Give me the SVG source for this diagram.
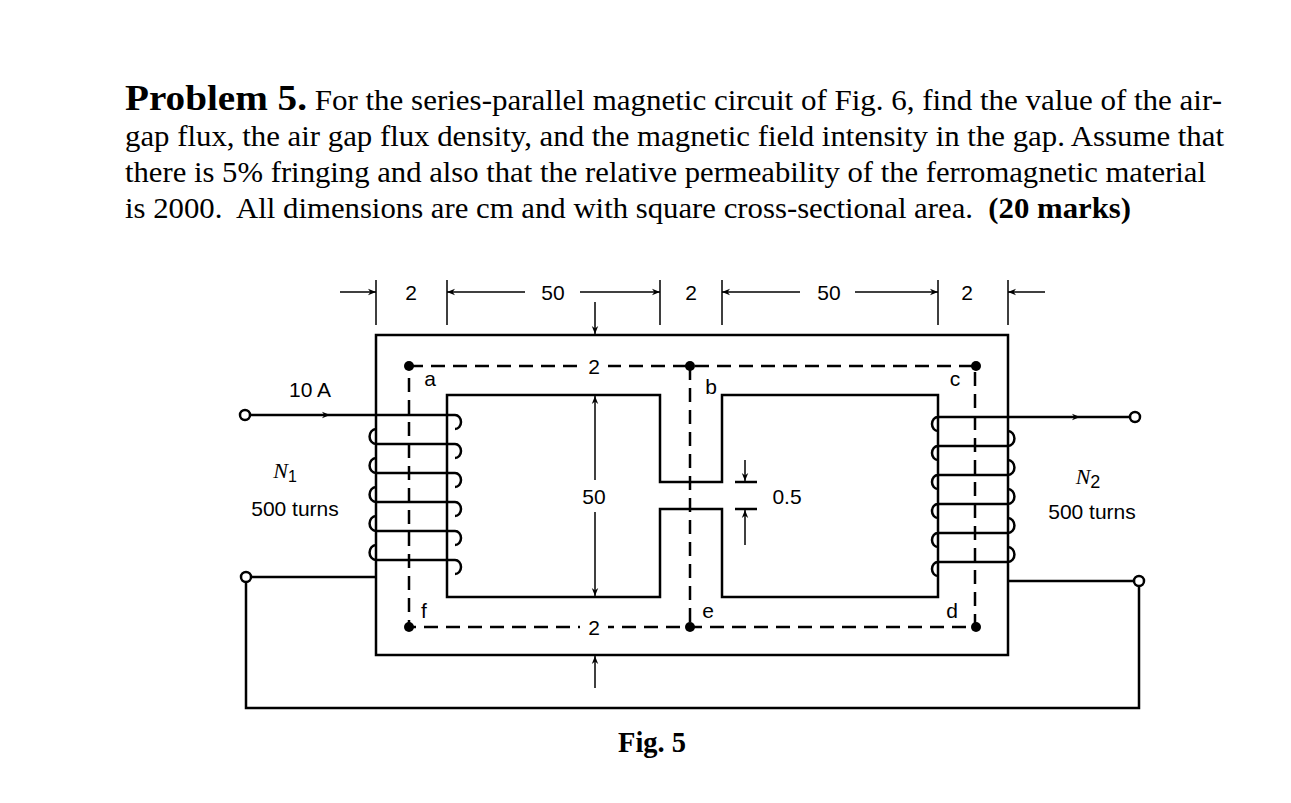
<svg xmlns="http://www.w3.org/2000/svg" width="1291" height="803" viewBox="0 0 1291 803">
<style>
.t{font-family:"Liberation Serif",serif;font-size:28.5px;fill:#000}
.s{font-family:"Liberation Sans",sans-serif;font-size:21px;fill:#000}
.ln{stroke:#000;stroke-width:2.5;fill:none}
.th{stroke:#000;stroke-width:1.5;fill:none}
.ds{stroke:#000;stroke-width:2.5;fill:none;stroke-dasharray:14 8}
</style>
<defs>
<marker id="ar" viewBox="0 0 10 10" refX="10" refY="5" markerWidth="12" markerHeight="8" orient="auto" markerUnits="userSpaceOnUse"><path d="M0,1 L10,5 L0,9 L3,5 z" fill="#000"/></marker>
</defs>
<rect width="1291" height="803" fill="#fff"/>
<text class="t" x="125" y="110" textLength="1097" lengthAdjust="spacingAndGlyphs"><tspan font-weight="bold" font-size="36">Problem 5.</tspan> For the series-parallel magnetic circuit of Fig. 6, find the value of the air-</text>
<text class="t" x="125" y="146" textLength="1099" lengthAdjust="spacingAndGlyphs">gap flux, the air gap flux density, and the magnetic field intensity in the gap. Assume that</text>
<text class="t" x="125" y="182" textLength="1081" lengthAdjust="spacingAndGlyphs">there is 5% fringing and also that the relative permeability of the ferromagnetic material</text>
<text class="t" x="125" y="218" textLength="1006" lengthAdjust="spacingAndGlyphs" xml:space="preserve">is 2000.  All dimensions are cm and with square cross-sectional area.  <tspan font-weight="bold">(20 marks)</tspan></text>
<text class="t" x="618" y="752" font-weight="bold">Fig. 5</text>

<g id="core">
<rect class="ln" x="376" y="335" width="632" height="320"/>
<path class="ln" d="M447,597 V395 H660 V482 H722 V395 H938 V597 H722 V509 H660 V597 Z"/>
</g>
<g id="path">
<path class="ds" d="M409,366 H975 V627 H409 Z"/>
<path class="ds" d="M690,366 V627"/>
<rect x="580" y="354" width="28" height="24" fill="#fff"/>
<rect x="580" y="615" width="28" height="24" fill="#fff"/>
<circle cx="409" cy="366" r="5"/><circle cx="690" cy="366" r="5"/><circle cx="976" cy="366" r="5"/>
<circle cx="409" cy="627" r="5"/><circle cx="690" cy="627" r="5"/><circle cx="976" cy="627" r="5"/>
</g>
<g id="coil1" class="ln">
<path d="M376,415 H455 M376,444 H455 M376,473 H455 M376,502 H455 M376,531 H455 M376,560 H455"/>
<path d="M455,415 a6,7 0 0 1 0,14 M455,444 a6,7 0 0 1 0,14 M455,473 a6,7 0 0 1 0,14 M455,502 a6,7 0 0 1 0,14 M455,531 a6,7 0 0 1 0,14 M455,560 a6,7 0 0 1 0,14"/>
<path d="M376,429 a6,7 0 0 0 0,15 M376,458 a6,7 0 0 0 0,15 M376,487 a6,7 0 0 0 0,15 M376,516 a6,7 0 0 0 0,15 M376,545 a6,7 0 0 0 0,15"/>
</g>
<g id="coil2" class="ln">
<path d="M938,417 H1008 M938,446 H1008 M938,475 H1008 M938,504 H1008 M938,533 H1008 M938,562 H1008"/>
<path d="M938,417 a6,7 0 0 0 0,14 M938,446 a6,7 0 0 0 0,14 M938,475 a6,7 0 0 0 0,14 M938,504 a6,7 0 0 0 0,14 M938,533 a6,7 0 0 0 0,14 M938,562 a6,7 0 0 0 0,14"/>
<path d="M1008,431 a6,7 0 0 1 0,15 M1008,460 a6,7 0 0 1 0,15 M1008,489 a6,7 0 0 1 0,15 M1008,518 a6,7 0 0 1 0,15 M1008,547 a6,7 0 0 1 0,15"/>
</g>
<g id="wires">
<path class="ln" d="M249,415 H376"/>
<path class="th" d="M300,415 H330" marker-end="url(#ar)"/>
<path class="ln" d="M1008,417 H1130"/>
<path class="th" d="M1060,417 H1080" marker-end="url(#ar)"/>
<path class="ln" d="M251,577 H376 M1008,581 H1133 M246,582 V708 H1139 V586"/>
<circle class="ln" cx="245" cy="415" r="5" fill="#fff"/>
<circle class="ln" cx="1135" cy="417" r="5" fill="#fff"/>
<circle class="ln" cx="246" cy="577" r="5" fill="#fff"/>
<circle class="ln" cx="1139" cy="581" r="5" fill="#fff"/>
</g>
<g id="dims">
<path class="th" d="M376,280 V325 M447,280 V325 M660,280 V325 M722,280 V325 M938,280 V325 M1008,280 V325"/>
<path class="th" d="M340,292 H376" marker-end="url(#ar)"/>
<path class="th" d="M525,292 H447" marker-end="url(#ar)"/>
<path class="th" d="M580,292 H660" marker-end="url(#ar)"/>
<path class="th" d="M800,292 H722" marker-end="url(#ar)"/>
<path class="th" d="M855,292 H938" marker-end="url(#ar)"/>
<path class="th" d="M1045,292 H1008" marker-end="url(#ar)"/>
<path class="th" d="M595,302 V334" marker-end="url(#ar)"/>
<path class="th" d="M595,480 V396" marker-end="url(#ar)"/>
<path class="th" d="M595,512 V596" marker-end="url(#ar)"/>
<path class="th" d="M595,688 V656" marker-end="url(#ar)"/>
<path class="th" d="M745,460 V481" marker-end="url(#ar)"/>
<path class="th" d="M745,545 V510" marker-end="url(#ar)"/>
<path class="ln" d="M735,482 H757 M735,509 H757"/>
</g>
<g id="labels" class="s">
<text x="411" y="300" text-anchor="middle">2</text>
<text x="553" y="300" text-anchor="middle">50</text>
<text x="691" y="300" text-anchor="middle">2</text>
<text x="829" y="300" text-anchor="middle">50</text>
<text x="967" y="300" text-anchor="middle">2</text>
<text x="594" y="374" text-anchor="middle">2</text>
<text x="594" y="504" text-anchor="middle">50</text>
<text x="594" y="635" text-anchor="middle">2</text>
<text x="787" y="504" text-anchor="middle">0.5</text>
<text x="310" y="397" text-anchor="middle">10 A</text>
<text x="295" y="516" text-anchor="middle">500 turns</text>
<text x="1092" y="519" text-anchor="middle">500 turns</text>
<text x="430" y="386" text-anchor="middle">a</text>
<text x="711" y="394" text-anchor="middle">b</text>
<text x="955" y="386" text-anchor="middle">c</text>
<text x="952" y="618" text-anchor="middle">d</text>
<text x="708" y="618" text-anchor="middle">e</text>
<text x="424" y="618" text-anchor="middle">f</text>
<text x="285" y="478" text-anchor="middle" font-family="Liberation Serif,serif" font-style="italic" font-size="22">N<tspan font-family="Liberation Sans,sans-serif" font-style="normal" font-size="16" dy="4">1</tspan></text>
<text x="1088" y="484" text-anchor="middle" font-family="Liberation Serif,serif" font-style="italic" font-size="22">N<tspan font-family="Liberation Sans,sans-serif" font-style="normal" font-size="18" dy="4">2</tspan></text>
</g>
</svg>
